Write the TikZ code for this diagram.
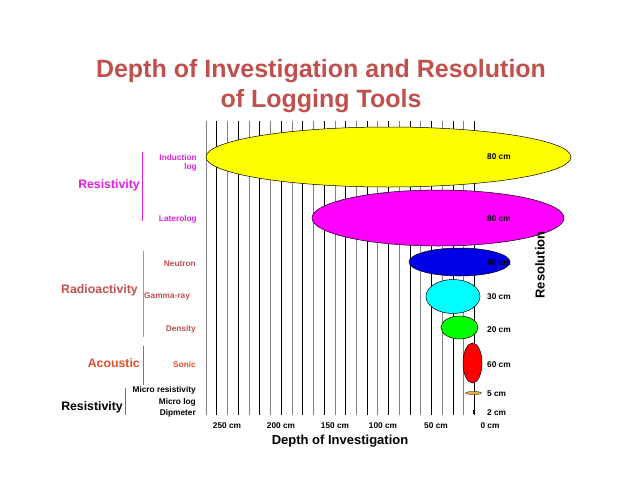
\documentclass[tikz,border=0pt]{standalone}
\usepackage{fontspec}
\setmainfont{Liberation Sans}
\begin{document}
\begin{tikzpicture}[x=1pt,y=-1pt,
  lab/.style={font=\bfseries\fontsize{8.3}{9.5}\selectfont,inner sep=0},
  cat/.style={font=\bfseries\fontsize{12.3}{14}\selectfont,inner sep=0,anchor=east},
  ell/.style={draw=black,line width=0.5pt}]
\useasboundingbox (0,0) rectangle (638,493);
\definecolor{ttl}{HTML}{C0504D}
\definecolor{mag}{HTML}{E020E0}
\definecolor{rad}{HTML}{C0504D}
\definecolor{aco}{HTML}{E0502A}
\definecolor{cY}{HTML}{FFFF00}
\definecolor{cM}{HTML}{FF00FF}
\definecolor{cB}{HTML}{0000E6}
\definecolor{cC}{HTML}{00FFFF}
\definecolor{cG}{HTML}{00FF00}
\definecolor{cR}{HTML}{FF0000}
\definecolor{cO}{HTML}{F0B030}
\node[font=\bfseries\fontsize{25}{30}\selectfont,text=ttl,align=center] (title) at (321,86) {Depth of Investigation and Resolution\\of Logging Tools};
\foreach \i in {0,...,25}{
  \pgfmathsetmacro\xx{206+\i*10.74}
  \pgfmathparse{mod(\i,2)==0?"gray":"black"}
  \draw[\pgfmathresult,line width=0.7pt] (\xx,121) -- (\xx,415);
}
\draw[ell,fill=cY] (388.5,157) ellipse (182.5 and 30);
\draw[ell,fill=cM] (438,218) ellipse (126 and 28);
\draw[ell,fill=cB] (459.5,262) ellipse (50.5 and 14);
\draw[ell,fill=cC] (453,296.5) ellipse (27 and 17);
\draw[ell,fill=cG] (459.5,327.5) ellipse (18.5 and 11.5);
\draw[ell,fill=cR] (472.5,363) ellipse (9.5 and 20);
\draw[ell,fill=cO,line width=0.3pt] (473.5,393) ellipse (8 and 1.5);
\draw[black,line width=0.8pt] (473.5,410) -- (473.5,414);
\foreach \y/\t/\n in {157/80 cm/ra,219/80 cm/rb,263/40 cm/rc,297/30 cm/rd,330/20 cm/re,365/60 cm/rf,394/5 cm/rg,413/2 cm/rh}
  \node[lab,anchor=west] (\n) at (487,\y) {\t};
\foreach \x/\t/\n in {227/250 cm/ta,281/200 cm/tb,335/150 cm/tc,383/100 cm/td,436/50 cm/te,490/0 cm/tf}
  \node[lab] (\n) at (\x,426) {\t};
\node[font=\bfseries\fontsize{13}{15}\selectfont] (xl) at (340,441) {Depth of Investigation};
\node[font=\bfseries\fontsize{13}{15}\selectfont,rotate=90] (yl) at (540,265) {Resolution};
% left labels
\node[lab,text=mag,align=right,anchor=east] (ind) at (197,163) {Induction\\log};
\node[lab,text=mag,anchor=east] (lat) at (197,219) {Laterolog};
\draw[mag,line width=0.6pt] (142,152) -- (142,221);
\node[cat,text=mag] (res1) at (140,185) {Resistivity};
\node[lab,text=rad,anchor=east] (neu) at (196,264) {Neutron};
\node[lab,text=rad,anchor=west] (gam) at (144,296) {Gamma-ray};
\node[lab,text=rad,anchor=east] (den) at (196,329) {Density};
\draw[rad!70,line width=0.6pt] (143,251) -- (143,337);
\node[cat,text=rad] (radn) at (138,290) {Radioactivity};
\node[lab,text=aco,anchor=east] (son) at (196,365) {Sonic};
\draw[aco,line width=0.6pt] (143,346) -- (143,385);
\node[cat,text=aco] (aco) at (140,363) {Acoustic};
\node[lab,anchor=east] (mr) at (196,390) {Micro resistivity};
\node[lab,anchor=east] (ml) at (196,402) {Micro log};
\node[lab,anchor=east] (dip) at (196,413) {Dipmeter};
\draw[mag,line width=0.8pt] (125,388) -- (125,415);
\node[cat] (res2) at (123,407) {Resistivity};
\end{tikzpicture}
\end{document}
